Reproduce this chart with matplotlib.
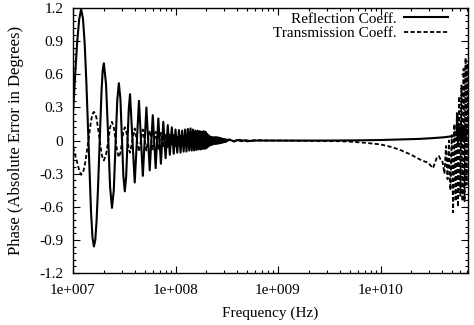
import numpy as np
import matplotlib.pyplot as plt
from matplotlib.ticker import FixedLocator, FuncFormatter, MultipleLocator, LogLocator, NullFormatter

plt.rcParams['font.family'] = ['Liberation Serif', 'DejaVu Serif']
plt.rcParams['axes.unicode_minus'] = False

# low-frequency part, read finely (MHz)
head_mhz = [10, 10.5, 11, 11.5, 12, 12.5, 13, 13.5, 14, 14.5, 15, 15.5,
            16, 16.5, 17, 17.5, 18, 18.5, 19, 19.5, 20, 21, 22, 23,
            24, 25, 26, 27, 28, 29, 30, 31, 32, 33, 34, 35]
refl_head = [0.25, 0.60, 0.90, 1.10, 1.19, 1.11, 0.88, 0.53, 0.12, -0.30, -0.65, -0.88,
             -0.96, -0.90, -0.72, -0.45, -0.13, 0.19, 0.46, 0.64, 0.70, 0.51, 0.05, -0.42,
             -0.61, -0.45, -0.05, 0.36, 0.52, 0.38, 0.03, -0.32, -0.46, -0.33, -0.02, 0.29]
trans_head = [-0.06, -0.13, -0.20, -0.27, -0.31, -0.29, -0.23, -0.13, -0.03, 0.08, 0.18, 0.24,
              0.26, 0.24, 0.20, 0.12, 0.04, -0.04, -0.12, -0.16, -0.18, -0.13, -0.01, 0.12,
              0.17, 0.12, 0.01, -0.10, -0.15, -0.11, -0.02, 0.08, 0.12, 0.09, 0.01, -0.08]

# ripple peaks and troughs (MHz)
osc_mhz = [36, 40, 44, 48, 52, 56, 60, 64, 68, 72,
           76, 80, 84, 88, 92, 96, 100, 104, 108, 112,
           116, 120, 124, 128, 132, 136, 140, 144, 148, 152,
           156, 160, 164, 168, 172, 176, 180, 184, 188, 192,
           196, 200, 204, 208, 212, 216, 220, 224, 228, 232,
           236, 240, 244, 248, 252, 256, 260, 264, 268, 272,
           276, 280, 284, 288, 292, 296, 300, 304, 308, 312,
           316]
refl_osc = [0.42, -0.38, 0.36, -0.32, 0.30, -0.27, 0.23, -0.25, 0.20, -0.21,
            0.17, -0.16, 0.14, -0.13, 0.12, -0.12, 0.10, -0.11, 0.095, -0.11,
            0.09, -0.10, 0.10, -0.10, 0.105, -0.09, 0.11, -0.09, 0.10, -0.09,
            0.09, -0.085, 0.09, -0.08, 0.085, -0.08, 0.08, -0.075, 0.085, -0.075,
            0.08, -0.07, 0.06, -0.055, 0.045, -0.045, 0.035, -0.04, 0.03, -0.035,
            0.03, -0.03, 0.03, -0.03, 0.03, -0.028, 0.028, -0.026, 0.025, -0.024,
            0.02, -0.02, 0.018, -0.018, 0.015, -0.015, 0.012, -0.012, 0.01, -0.01,
            0.008]
trans_osc = [-0.11, 0.11, -0.10, 0.10, -0.09, 0.09, -0.08, 0.08, -0.075, 0.07,
             -0.065, 0.06, -0.06, 0.055, -0.05, 0.05, -0.05, 0.045, -0.045, 0.045,
             -0.04, 0.04, -0.04, 0.04, -0.035, 0.035, -0.035, 0.035, -0.03, 0.03,
             -0.03, 0.03, -0.03, 0.03, -0.028, 0.028, -0.026, 0.026, -0.025, 0.025,
             -0.024, 0.024, -0.022, 0.022, -0.02, 0.02, -0.02, 0.02, -0.018, 0.018,
             -0.017, 0.017, -0.016, 0.016, -0.015, 0.015, -0.014, 0.014, -0.013, 0.013,
             -0.012, 0.012, -0.011, 0.011, -0.01, 0.01, -0.01, 0.01, -0.009, 0.009,
             -0.008]

# high-frequency part (Hz)
refl_tail_hz = [3.4e8, 3.7e8, 4.0e8, 4.4e8, 4.8e8, 5.3e8, 6e8, 1e9, 3e9, 6e9,
                1e10, 1.6e10, 2.4e10, 3.2e10, 4.2e10, 5e10, 5.5e10, 5.6e10, 5.7e10,
                5.85e10, 6.0e10, 6.2e10, 6.4e10, 6.6e10, 6.8e10, 7.0e10, 7.1e10]
refl_tail = [0.006, -0.006, 0.005, -0.005, 0.004, -0.004, 0.0, 0.0, 0.0, 0.002,
             0.005, 0.01, 0.015, 0.022, 0.03, 0.04, 0.05, 0.23, -0.02,
             0.15, 0.0, 0.14, 0.02, 0.12, 0.04, 0.10, 0.07]

trans_tail_hz = [3.4e8, 3.7e8, 4.2e8, 5e8, 6e8, 8e8, 1e9, 2e9, 4e9, 5e9, 7e9,
                 1e10, 1.3e10, 1.6e10, 2e10, 2.4e10, 2.7e10, 2.9e10, 3.1e10, 3.25e10,
                 3.4e10, 3.55e10, 3.7e10, 3.85e10, 4.0e10, 4.2e10,
                 4.35e10, 4.5e10, 4.65e10, 4.8e10, 4.95e10, 5.1e10, 5.25e10, 5.4e10,
                 5.55e10, 5.7e10, 5.85e10, 6.0e10, 6.15e10, 6.3e10, 6.45e10, 6.6e10,
                 6.75e10, 6.9e10, 7.05e10, 7.1e10]
trans_tail = [0.01, -0.01, 0.008, -0.008, 0.005, 0.0, 0.0, -0.003, -0.006, -0.01, -0.02,
              -0.035, -0.06, -0.09, -0.13, -0.17, -0.19, -0.20, -0.23, -0.25,
              -0.20, -0.15, -0.14, -0.17, -0.18, -0.30,
              -0.05, -0.35, 0.0, -0.45, 0.05, -0.65, 0.15, -0.55,
              0.25, -0.60, 0.40, -0.50, 0.50, -0.55, 0.65, -0.55,
              0.75, -0.40, 0.70, 0.20]

freq_low = np.array(head_mhz + osc_mhz) * 1e6
refl_f = np.concatenate([freq_low, refl_tail_hz])
refl_v = np.array(refl_head + refl_osc + refl_tail)
trans_f = np.concatenate([freq_low, trans_tail_hz])
trans_v = np.array(trans_head + trans_osc + trans_tail)

fig = plt.figure(figsize=(4.74, 3.25), dpi=100)
ax = fig.add_axes([0.154, 0.16, 0.833, 0.815])

ax.plot(refl_f, refl_v, color='black', lw=1.5, label='Reflection Coeff.')
ax.plot(trans_f, trans_v, color='black', lw=1.3, linestyle=(0, (2.3, 1.3)),
        label='Transmission Coeff.')

ax.set_xscale('log')
ax.set_xlim(1e7, 7.1e10)
ax.set_ylim(-1.2, 1.2)

ax.xaxis.set_major_locator(FixedLocator([1e7, 1e8, 1e9, 1e10]))
ax.xaxis.set_major_formatter(FuncFormatter(lambda v, p: '1e+%03d' % int(round(np.log10(v)))))
ax.xaxis.set_minor_locator(LogLocator(base=10, subs=np.arange(2, 10), numticks=20))
ax.xaxis.set_minor_formatter(NullFormatter())
ax.yaxis.set_major_locator(MultipleLocator(0.3))
ax.yaxis.set_minor_locator(MultipleLocator(0.06))
ax.yaxis.set_major_formatter(FuncFormatter(lambda v, p: '0' if abs(v) < 1e-9 else '%g' % round(v, 1)))

ax.tick_params(which='both', direction='in', top=True, right=True, labelsize=11, width=0.8)
ax.tick_params(which='major', length=5)
ax.tick_params(axis='y', which='major', pad=7)
ax.tick_params(axis='x', which='major', pad=8)
ax.tick_params(which='minor', length=2.5)
for s in ax.spines.values():
    s.set_linewidth(1.0)

ax.set_xlabel('Frequency (Hz)', fontsize=11, labelpad=7)
ax.set_ylabel('Phase (Absolute Error in Degrees)', fontsize=12, labelpad=11)

ax.legend(loc='upper right', bbox_to_anchor=(0.95, 0.985), frameon=False, markerfirst=False,
          fontsize=11, handlelength=2.9, handletextpad=0.5, labelspacing=0.05,
          borderpad=0, borderaxespad=0)

fig.savefig('out.png', dpi=100)
